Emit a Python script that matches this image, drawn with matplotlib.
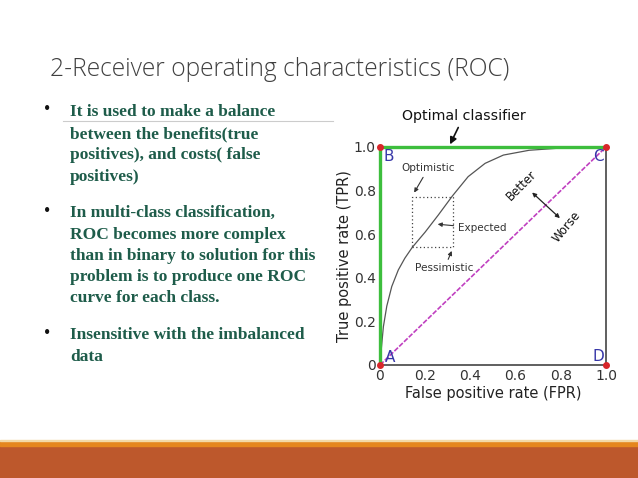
import matplotlib
matplotlib.use("Agg")
import matplotlib.pyplot as plt
import numpy as np

# ---- data ----
curve_fpr = [0, 0.004, 0.015, 0.03, 0.052, 0.081, 0.11, 0.143, 0.20, 0.258, 0.32, 0.39, 0.465,
             0.546, 0.66, 0.81, 0.88, 1.0]
curve_tpr = [0, 0.054, 0.176, 0.27, 0.36, 0.436, 0.49, 0.54, 0.61, 0.688, 0.775, 0.864, 0.925,
             0.963, 0.985, 0.996, 1.0, 1.0]
optimal_fpr = [0, 0, 1]
optimal_tpr = [0, 1, 1]
random_fpr = [0, 1]
random_tpr = [0, 1]
corner_fpr = [0, 0, 1, 1]
corner_tpr = [0, 1, 1, 0]
corner_labels = ["A", "B", "C", "D"]
box_fpr = [0.143, 0.322]
box_tpr = [0.54, 0.772]
xticks = [0, 0.2, 0.4, 0.6, 0.8, 1.0]
xtick_labels = ["0", "0.2", "0.4", "0.6", "0.8", "1.0"]
yticks = [0, 0.2, 0.4, 0.6, 0.8, 1.0]
ytick_labels = ["0", "0.2", "0.4", "0.6", "0.8", "1.0"]

title = "2-Receiver operating characteristics (ROC)"
bullets = [
    ["It is used to make a balance", "between the benefits(true", "positives), and costs( false", "positives)"],
    ["In multi-class classification,", "ROC becomes more complex", "than in binary to solution for this",
     "problem is to produce one ROC", "curve for each class."],
    ["Insensitive with the imbalanced", "data"],
]

W, H = 638, 478
fig = plt.figure(figsize=(W / 100, H / 100), dpi=100)
fig.patch.set_facecolor("white")

def fx(px):
    return px / W

def fy(py):
    return 1 - py / H

# background bands
fig.patches.append(plt.Rectangle((0, 0), 1, fy(446), transform=fig.transFigure, color="#BD582C", zorder=0))
fig.patches.append(plt.Rectangle((0, fy(446)), 1, (446 - 441) / H, transform=fig.transFigure, color="#E5861E", zorder=0))
fig.patches.append(plt.Rectangle((0, fy(441)), 1, 1 / H, transform=fig.transFigure, color="#F3D9A8", zorder=0))

# title
fig.text(fx(50), fy(69), title, fontsize=17.7, color="#404040", family="Open Sans",
         weight="light", va="center", ha="left")

# bullets
line_y = [[112, 134, 155, 177], [213, 235, 256, 277, 298], [335, 357]]
for lines, ys in zip(bullets, line_y):
    fig.text(fx(44), fy(ys[0] - 2), "\u2022", fontsize=13, color="#111111", va="center", ha="left",
             family="Liberation Serif")
    for ln, y in zip(lines, ys):
        fig.text(fx(70), fy(y), ln, fontsize=12.5, color="#1E5C4A", weight="bold",
                 family="Liberation Serif", va="center", ha="left")
fig.add_artist(plt.Line2D([fx(63), fx(333)], [fy(121), fy(121)], color="#CCCCCC", lw=0.8,
                          transform=fig.transFigure))

# ROC axes
ax = fig.add_axes([fx(380), fy(365), (606 - 380) / W, (365 - 147) / H])
ax.set_xlim(0, 1)
ax.set_ylim(0, 1)
for s in ["left", "top"]:
    ax.spines[s].set_visible(False)
for s in ["right", "bottom"]:
    ax.spines[s].set_color("#444444")
    ax.spines[s].set_linewidth(1.2)

ax.plot(curve_fpr, curve_tpr, color="#555555", lw=0.9, clip_on=False)
ax.plot(random_fpr, random_tpr, color="#C040C0", lw=1.2, ls=(0, (3, 1)), clip_on=False)
ax.plot(optimal_fpr, optimal_tpr, color="#3DBE3D", lw=2.4, clip_on=False, zorder=3)
ax.scatter(corner_fpr, corner_tpr, color="#D8262A", s=16, zorder=5, clip_on=False)

offsets = [(0.045, 0.035), (0.04, -0.045), (-0.035, -0.045), (-0.035, 0.038)]
for cx, cy, lab, (dx, dy) in zip(corner_fpr, corner_tpr, corner_labels, offsets):
    ax.text(cx + dx, cy + dy, lab, color="#3737A8", fontsize=11, ha="center", va="center")

# dotted box
bx0, bx1 = box_fpr
by0, by1 = box_tpr
ax.plot([bx0, bx1, bx1, bx0, bx0], [by0, by0, by1, by1, by0], color="#444444", lw=0.9, ls=(0, (1, 2)))

ax.set_xticks(xticks)
ax.set_xticklabels(xtick_labels)
ax.set_yticks(yticks)
ax.set_yticklabels(ytick_labels)
ax.tick_params(length=0, labelsize=10, colors="#333333", pad=3)
ax.set_xlabel("False positive rate (FPR)", fontsize=10.5, color="#222222", labelpad=2)
ax.set_ylabel("True positive rate (TPR)", fontsize=10.5, color="#222222", labelpad=1)

ax.annotate("Optimal classifier", xy=(0.31, 1.012), xytext=(0.37, 1.14), fontsize=10.2,
            ha="center", va="center", color="#111111",
            arrowprops=dict(arrowstyle="-|>", color="#111111", lw=1.2, mutation_scale=10, shrinkA=1,
                            shrinkB=0),
            annotation_clip=False)
ax.annotate("Optimistic", xy=(0.145, 0.78), xytext=(0.214, 0.902), fontsize=7.5, ha="center",
            va="center", color="#333333",
            arrowprops=dict(arrowstyle="-|>", color="#333333", lw=0.8, mutation_scale=6, shrinkA=1))
ax.annotate("Expected", xy=(0.243, 0.647), xytext=(0.344, 0.627), fontsize=7.5, ha="left",
            va="center", color="#333333",
            arrowprops=dict(arrowstyle="-|>", color="#333333", lw=0.8, mutation_scale=6, shrinkA=1))
ax.annotate("Pessimistic", xy=(0.322, 0.535), xytext=(0.285, 0.443), fontsize=7.6, ha="center",
            va="center", color="#333333",
            arrowprops=dict(arrowstyle="-|>", color="#333333", lw=0.8, mutation_scale=6, shrinkA=1))
ax.annotate("", xy=(0.664, 0.80), xytext=(0.805, 0.665),
            arrowprops=dict(arrowstyle="<|-|>", color="#222222", lw=0.9, mutation_scale=6))
ax.text(0.628, 0.826, "Better", rotation=45, fontsize=8.5, ha="center", va="center", color="#111111")
ax.text(0.827, 0.633, "Worse", rotation=50, fontsize=8.5, ha="center", va="center", color="#111111")

fig.savefig("out.png", dpi=100, facecolor="white")
